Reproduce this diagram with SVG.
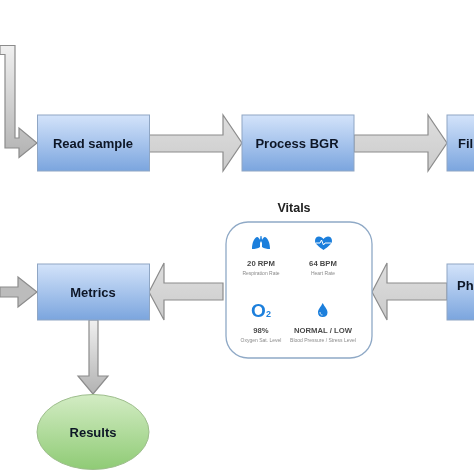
<svg xmlns="http://www.w3.org/2000/svg" width="474" height="474" viewBox="0 0 474 474">
<style>
.box{fill:url(#blue);stroke:#8fa6c4;stroke-width:1}
.arrow{stroke:#8c8c8c;stroke-width:1.2;stroke-linejoin:miter}
.lbl{font-family:"Liberation Sans",Arial,sans-serif;font-weight:700;font-size:13px;fill:#0d1626;text-anchor:middle}
.cut{text-anchor:start}
.val{font-family:"Liberation Sans",Arial,sans-serif;font-weight:700;font-size:7.700px;fill:#4a4a4a;text-anchor:middle}
.sub{font-family:"Liberation Sans",Arial,sans-serif;font-size:5px;fill:#8a8a8a;text-anchor:middle}
.icon{fill:#1b7fdc}
</style>
<defs>
<linearGradient id="blue" x1="0" y1="0" x2="0" y2="1"><stop offset="0" stop-color="#d3e3fa"/><stop offset="1" stop-color="#7ba5de"/></linearGradient>
<linearGradient id="green" x1="0" y1="0" x2="0" y2="1"><stop offset="0" stop-color="#d3ecc4"/><stop offset="1" stop-color="#8fcb75"/></linearGradient>
<linearGradient id="gv" x1="0" y1="0" x2="0" y2="1"><stop offset="0" stop-color="#f0f0f0"/><stop offset="1" stop-color="#b2b2b2"/></linearGradient>
<linearGradient id="gh" x1="0" y1="0" x2="0" y2="1"><stop offset="0" stop-color="#dedede"/><stop offset="1" stop-color="#cbcbcb"/></linearGradient>
<filter id="soft" x="-2%" y="-2%" width="104%" height="104%"><feGaussianBlur stdDeviation="0.450"/></filter>
</defs>
<rect width="474" height="474" fill="#ffffff"/>
<g filter="url(#soft)">
<g id="connectors">
<path class="arrow" fill="url(#gv)" d="M0 45.500H15V138H19V128L37 143L19 157.500V148H5V54.500H0Z"/>
<path class="arrow" fill="url(#gh)" d="M149 135H223V115L242 143L223 171V152H149Z"/>
<path class="arrow" fill="url(#gh)" d="M354 135H428V115L447 143L428 171V152H354Z"/>
<path class="arrow" fill="#bcbcbc" d="M0 287H18V277L37 292L18 307V297H0Z"/>
<path class="arrow" fill="url(#gh)" d="M223 283H164V263L149 292L164 320V300H223Z"/>
<path class="arrow" fill="url(#gh)" d="M447 283H387V263L372 292L387 320V300H447Z"/>
<path class="arrow" fill="url(#gv)" d="M89 320H98V376H108L93 394L78 376H89Z"/>
</g>
<g id="read-sample"><rect class="box" x="37.500" y="115" width="112" height="56"/><text class="lbl" x="93" y="148">Read sample</text></g>
<g id="process-bgr"><rect class="box" x="242" y="115" width="112" height="56"/><text class="lbl" x="297" y="148">Process BGR</text></g>
<g id="filter"><rect class="box" x="447" y="115" width="112" height="56"/><text class="lbl cut" x="458" y="148">Fil</text></g>
<g id="metrics"><rect class="box" x="37.500" y="264" width="112" height="56"/><text class="lbl" x="93" y="297">Metrics</text></g>
<g id="phys"><rect class="box" x="447" y="264" width="112" height="56"/><text class="lbl cut" x="457" y="290">Ph</text></g>
<g id="results"><ellipse cx="93" cy="432" rx="56" ry="37.500" fill="url(#green)" stroke="#9dbd8c"/><text class="lbl" x="93" y="437">Results</text></g>
<g id="vitals">
<text x="294" y="212" font-family="'Liberation Sans',Arial,sans-serif" font-weight="700" font-size="12.500" fill="#222" text-anchor="middle">Vitals</text>
<rect x="226" y="222" width="146" height="136" rx="22" fill="#fff" stroke="#8fa9c6" stroke-width="1.300"/>
<path class="icon" d="M257 237C254 238 252 243 252 249C255 249 258 248.500 260 247V243L261 241L262 243V247C264 248.500 267 249 270 249C270 243 268 238 265 237C263.500 237 262.500 239 262 240L261.500 236H260.500L260 240C259.500 239 258.500 237 257 237Z"/>
<path class="icon" d="M323.500 250C319 247 315 243.500 315 241C315 235.500 321 235.500 323.500 239C326 235.500 332 235.500 332 241C332 243.500 328 247 323.500 250Z"/>
<path d="M316 243H320L321.500 240L323.500 245L325 243H331" fill="none" stroke="#fff" stroke-width="1"/>
<text x="261" y="266" class="val">20 RPM</text>
<text x="323" y="266" class="val">64 BPM</text>
<text x="261" y="275" class="sub">Respiration Rate</text>
<text x="323" y="275" class="sub">Heart Rate</text>
<text x="261" y="317" font-family="'Liberation Sans',Arial,sans-serif" font-weight="700" font-size="19" fill="#1b7fdc" text-anchor="middle">O<tspan font-size="9">2</tspan></text>
<path class="icon" d="M322.700 303C320.500 307.500 318 309 318 312.500C318 315.500 320 317 322.700 317C325.500 317 327.500 315.500 327.500 312.500C327.500 309 325 307.500 322.700 303Z"/>
<path d="M320 312C320 314 321 315 322.500 315" fill="none" stroke="#fff" stroke-width="0.800"/>
<text x="261" y="333" class="val">98%</text>
<text x="323" y="333" class="val">NORMAL / LOW</text>
<text x="261" y="342" class="sub">Oxygen Sat. Level</text>
<text x="323" y="342" class="sub">Blood Pressure / Stress Level</text>
</g>
</g>
</svg>
